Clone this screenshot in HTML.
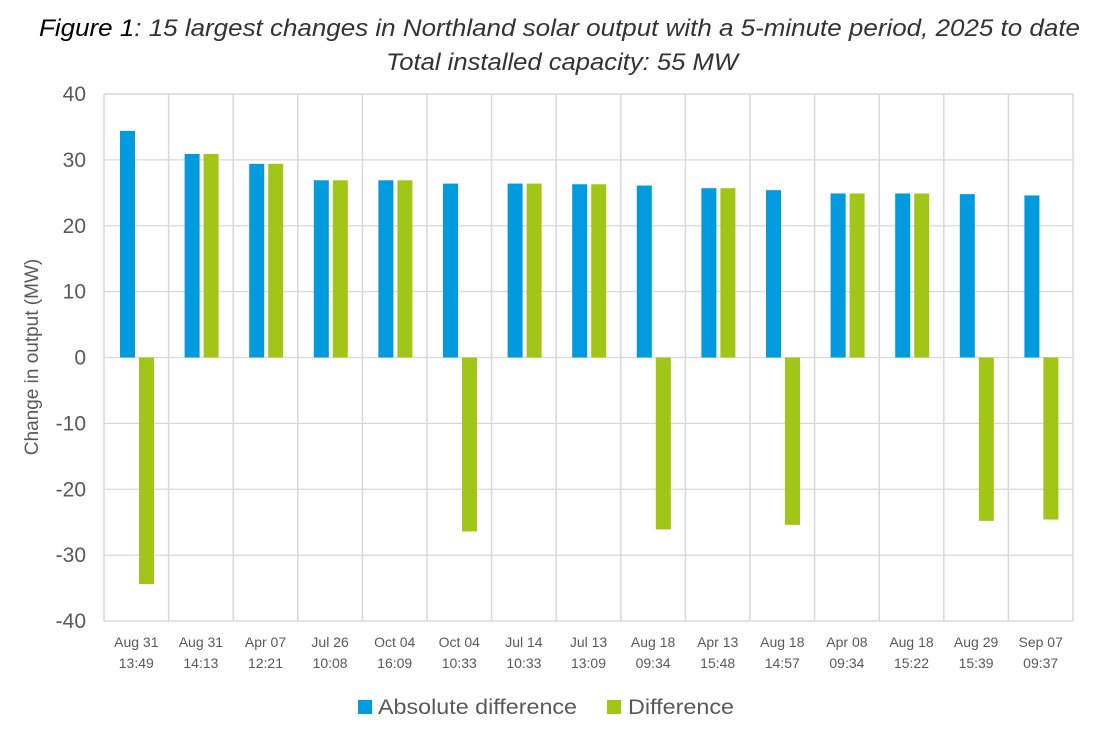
<!DOCTYPE html>
<html><head><meta charset="utf-8"><style>
body{margin:0;background:#fff;width:1098px;height:736px;overflow:hidden;font-family:"Liberation Sans",sans-serif}
</style></head><body>
<svg id="chart" width="1098" height="736" xmlns="http://www.w3.org/2000/svg">
<text x="39" y="36" textLength="1041" lengthAdjust="spacingAndGlyphs" font-size="24" font-style="italic" fill="#333" font-family="Liberation Sans, sans-serif"><tspan fill="#000">Figure 1</tspan>: 15 largest changes in Northland solar output with a 5-minute period, 2025 to date</text>
<text x="386" y="70" textLength="352" lengthAdjust="spacingAndGlyphs" font-size="24" font-style="italic" fill="#333">Total installed capacity: 55 MW</text>
<text transform="translate(38,357) rotate(-90)" text-anchor="middle" font-size="19" fill="#595959">Change in output (MW)</text>
<g id="grid"></g><g id="bars"></g><g id="labels"></g>
<g>
<rect x="358" y="700" width="14" height="14" fill="#009ADE"/>
<text x="378" y="714" font-size="21" textLength="199" lengthAdjust="spacingAndGlyphs" fill="#595959">Absolute difference</text>
<rect x="607" y="700" width="14" height="14" fill="#A2C617"/>
<text x="628" y="714" font-size="21" textLength="106" lengthAdjust="spacingAndGlyphs" fill="#595959">Difference</text>
</g>
</svg>
<script>
const categories=[["Aug 31","13:49"],["Aug 31","14:13"],["Apr 07","12:21"],["Jul 26","10:08"],["Oct 04","16:09"],["Oct 04","10:33"],["Jul 14","10:33"],["Jul 13","13:09"],["Aug 18","09:34"],["Apr 13","15:48"],["Aug 18","14:57"],["Apr 08","09:34"],["Aug 18","15:22"],["Aug 29","15:39"],["Sep 07","09:37"]];
const absValues=[34.4,30.9,29.4,26.9,26.9,26.4,26.4,26.3,26.1,25.7,25.4,24.9,24.9,24.8,24.6];
const diffValues=[-34.4,30.9,29.4,26.9,26.9,-26.4,26.4,26.3,-26.1,25.7,-25.4,24.9,24.9,-24.8,-24.6];
const yTicks=[40,30,20,10,0,-10,-20,-30,-40];
const NS="http://www.w3.org/2000/svg";
const L=104,R=1073,T=94,B=621,yMax=40,yMin=-40;
const y=v=>T+(yMax-v)/(yMax-yMin)*(B-T);
const cw=(R-L)/categories.length;
const x=i=>L+i*cw;
function mk(tag,attrs,parent){const e=document.createElementNS(NS,tag);for(const k in attrs)e.setAttribute(k,attrs[k]);document.getElementById(parent).appendChild(e);return e;}
yTicks.forEach(t=>{
 const ln=mk('line',{x1:L,x2:R,y1:y(t),y2:y(t),stroke:'#d9d9d9','stroke-width':t===40||t===-40?1.5:1.2},'grid');
 
 
 const tx=mk('text',{x:86,y:y(t)+7,'text-anchor':'end','font-size':21,fill:'#595959'},'labels');
 tx.textContent=t;
 
 
});
for(let i=0;i<=categories.length;i++){
 const ln=mk('line',{x1:x(i),x2:x(i),y1:T,y2:B,stroke:'#d9d9d9','stroke-width':1.5},'grid');
 
 
}
categories.forEach((c,i)=>{
 const b1=mk('rect',{x:x(i)+16,y:Math.min(y(absValues[i]),y(0)),width:15,height:Math.abs(y(absValues[i])-y(0)),fill:'#009ADE'},'bars');
 
 
 const b2=mk('rect',{x:x(i)+35,y:Math.min(y(diffValues[i]),y(0)),width:15,height:Math.abs(y(diffValues[i])-y(0)),fill:'#A2C617'},'bars');
 
 
 const t=mk('text',{x:x(i)+cw/2,'text-anchor':'middle','font-size':14,fill:'#595959'},'labels');
 
 
 const s1=mk('tspan',{x:x(i)+cw/2,y:647},'labels');t.appendChild(s1);s1.textContent=c[0];
 const s2=mk('tspan',{x:x(i)+cw/2,y:668},'labels');t.appendChild(s2);s2.textContent=c[1];
});
</script>
</body></html>
